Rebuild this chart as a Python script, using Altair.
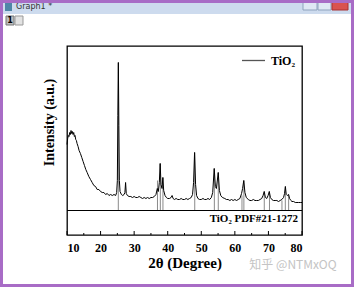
import altair as alt
import pandas as pd

# XRD pattern (2theta in degrees, intensity in arbitrary units)
two_theta = [
    10.0, 10.2, 10.4, 10.6, 10.8, 11.0, 11.2, 11.4, 11.6, 11.8,
    12.0, 12.2, 12.4, 12.6, 12.8, 13.0, 13.3, 13.6, 14.0, 14.4,
    14.8, 15.2, 15.6, 16.0, 16.5, 17.0, 17.5, 18.0, 18.5, 19.0,
    19.5, 20.0, 20.5, 21.0, 21.5, 22.0, 22.5, 23.0, 23.5, 24.0,
    24.5, 24.8, 25.0, 25.15, 25.3, 25.45, 25.6, 25.8, 26.2, 26.6,
    27.0, 27.25, 27.45, 27.65, 28.0, 28.5, 29.0, 29.5, 30.0, 30.5,
    31.0, 31.5, 32.0, 32.5, 33.0, 33.5, 34.0, 34.5, 35.0, 35.5,
    36.0, 36.5, 36.9, 37.2, 37.5, 37.75, 38.0, 38.3, 38.55, 38.8,
    39.2, 39.6, 40.0, 40.5, 41.0, 41.3, 41.6, 42.0, 42.5, 43.0,
    43.5, 44.0, 44.5, 45.0, 45.5, 46.0, 46.5, 47.0, 47.4, 47.7,
    48.0, 48.3, 48.6, 49.0, 49.5, 50.0, 50.5, 51.0, 51.5, 52.0,
    52.5, 53.0, 53.4, 53.85, 54.2, 54.5, 55.05, 55.4, 55.8, 56.3,
    57.0, 57.5, 58.0, 58.5, 59.0, 59.5, 60.0, 60.5, 61.0, 61.5,
    62.0, 62.3, 62.65, 63.0, 63.4, 64.0, 64.5, 65.0, 65.5, 66.0,
    66.5, 67.0, 67.5, 68.0, 68.4, 68.75, 69.1, 69.5, 69.9, 70.25,
    70.6, 71.0, 71.5, 72.0, 72.5, 73.0, 73.5, 74.0, 74.5, 74.8,
    75.05, 75.3, 75.6, 76.0, 76.3, 76.7, 77.0, 77.5, 78.0, 78.5,
    79.0, 79.5, 80.0,
]
counts = [
    66, 72, 75, 74, 78, 76, 80, 77, 79, 76,
    78, 74, 75, 71, 70, 67, 64, 60, 57, 53,
    49, 45, 41, 38, 34, 31, 28, 25, 24, 21,
    21, 19, 18, 18, 16, 17, 15, 16, 15, 16,
    15, 18, 30, 95, 148, 85, 30, 19, 16, 15,
    16, 18, 28, 17, 15, 14, 14, 13, 14, 13,
    13, 14, 13, 12, 13, 12, 13, 12, 13, 13,
    14, 16, 22, 19, 28, 47, 26, 22, 33, 20,
    15, 13, 12, 12, 13, 15, 12, 11, 12, 11,
    11, 12, 11, 11, 12, 11, 12, 13, 16, 28,
    58, 26, 15, 12, 11, 11, 12, 11, 11, 12,
    11, 13, 18, 42, 24, 22, 38, 20, 15, 13,
    12, 11, 11, 10, 11, 10, 11, 10, 11, 12,
    17, 22, 30, 18, 13, 11, 10, 10, 11, 10,
    10, 10, 11, 12, 15, 19, 13, 12, 15, 19,
    13, 11, 10, 10, 10, 9, 10, 11, 13, 17,
    24, 16, 15, 16, 12, 10, 9, 9, 8, 8,
    8, 8, 8,
]

# Reference pattern TiO2 PDF#21-1272 (stick positions and heights)
pdf_pos = [25.28, 36.95, 37.80, 38.58, 48.05, 53.89, 55.06, 62.12, 62.69,
           68.76, 70.31, 74.03, 75.03, 76.02]
pdf_h = [148, 30, 47, 33, 58, 42, 38, 15, 30, 19, 19, 10, 24, 16]

major_ticks = [10, 20, 30, 40, 50, 60, 70, 80]
minor_ticks = [15, 25, 35, 45, 55, 65, 75]

legend_label = ["TiO₂"]
panel_label = ["TiO₂ PDF#21-1272"]
x_title = "2θ (Degree)"
y_title = "Intensity (a.u.)"

SERIF = "Liberation Serif"
W, H = 235, 189

xs = alt.Scale(domain=[10, 80], nice=False, zero=False)
ys = alt.Scale(domain=[-24.5, 164.5], nice=False, zero=False)

curve_df = pd.DataFrame({"x": two_theta, "y": counts})
pdf_df = pd.DataFrame({"x": pdf_pos, "h": pdf_h})
major_df = pd.DataFrame({"x": major_ticks})
minor_df = pd.DataFrame({"x": minor_ticks})
one = pd.DataFrame({"a": [0]})

x_axis = alt.Axis(
    values=major_ticks, format="d", grid=False, ticks=False, domain=False,
    labelFont=SERIF, labelFontSize=12, labelFontWeight="bold", labelColor="black",
    labelPadding=7, title=x_title, titleFont=SERIF, titleFontSize=15,
    titleFontWeight="bold", titleColor="black", titlePadding=2,
)
y_axis = alt.Axis(
    labels=False, ticks=False, domain=False, grid=False, title=y_title,
    titleFont=SERIF, titleFontSize=14, titleFontWeight="bold", titleColor="black",
    titlePadding=11, titleY=76,
)

sticks = alt.Chart(pdf_df).mark_rule(color="#8a8a8a", strokeWidth=1).encode(
    x=alt.X("x:Q", scale=xs, axis=x_axis),
    y=alt.Y("h:Q", scale=ys, axis=y_axis),
    y2=alt.datum(0),
)

curve = alt.Chart(curve_df).mark_line(color="black", strokeWidth=1).encode(
    x=alt.X("x:Q", scale=xs, axis=x_axis),
    y=alt.Y("y:Q", scale=ys, axis=y_axis),
)

# separator between the pattern panel and the PDF-card panel
divider = alt.Chart(one).mark_rule(color="black", strokeWidth=1.2).encode(
    x=alt.value(0), x2=alt.value(W), y=alt.value(164.5)
)

major = alt.Chart(major_df).mark_rule(color="black", strokeWidth=1).encode(
    x=alt.X("x:Q", scale=xs, axis=x_axis),
    y=alt.value(H), y2=alt.value(H - 4),
)
minor = alt.Chart(minor_df).mark_rule(color="black", strokeWidth=1).encode(
    x=alt.X("x:Q", scale=xs, axis=x_axis),
    y=alt.value(H), y2=alt.value(H - 2),
)

legend_line = alt.Chart(one).mark_rule(color="#555555", strokeWidth=1.3).encode(
    x=alt.value(175), x2=alt.value(198), y=alt.value(14.5)
)
legend_text = alt.Chart(pd.DataFrame({"t": legend_label})).mark_text(
    align="left", baseline="middle", font=SERIF, fontSize=12, fontWeight="bold",
    color="black",
).encode(x=alt.value(204), y=alt.value(14.5), text="t:N")

panel_text = alt.Chart(pd.DataFrame({"t": panel_label})).mark_text(
    align="right", baseline="middle", font=SERIF, fontSize=11, fontWeight="bold",
    color="black",
).encode(x=alt.value(231), y=alt.value(173), text="t:N")

# window chrome around the graph
title_bar = alt.Chart(one).mark_rect(color="#cddbee").encode(
    x=alt.value(-67), x2=alt.value(287), y=alt.value(-46), y2=alt.value(-32)
)
win_icon = alt.Chart(one).mark_rect(color="#4f86a8").encode(
    x=alt.value(-62), x2=alt.value(-55), y=alt.value(-44), y2=alt.value(-35)
)
win_title = alt.Chart(pd.DataFrame({"t": ["Graph1 *"]})).mark_text(
    align="left", baseline="middle", font="DejaVu Sans", fontSize=8, color="#333333"
).encode(x=alt.value(-51), y=alt.value(-39), text="t:N")
btn_min = alt.Chart(one).mark_rect(color="#dfe8f4", stroke="#8fa3bd").encode(
    x=alt.value(236), x2=alt.value(250), y=alt.value(-44), y2=alt.value(-36)
)
btn_max = alt.Chart(one).mark_rect(color="#dfe8f4", stroke="#8fa3bd").encode(
    x=alt.value(251), x2=alt.value(264), y=alt.value(-44), y2=alt.value(-36)
)
btn_close = alt.Chart(one).mark_rect(color="#d9534f", stroke="#a33").encode(
    x=alt.value(265), x2=alt.value(281), y=alt.value(-44), y2=alt.value(-36)
)
tab1 = alt.Chart(one).mark_rect(color="#bdbdbd", stroke="#777777").encode(
    x=alt.value(-61), x2=alt.value(-53), y=alt.value(-30), y2=alt.value(-21)
)
tab1_text = alt.Chart(pd.DataFrame({"t": ["1"]})).mark_text(
    align="center", baseline="middle", font="DejaVu Sans", fontSize=8,
    fontWeight="bold", color="black",
).encode(x=alt.value(-57), y=alt.value(-25.5), text="t:N")
tab2 = alt.Chart(one).mark_rect(color="#e2e2e2", stroke="#999999").encode(
    x=alt.value(-52), x2=alt.value(-44), y=alt.value(-30), y2=alt.value(-21)
)
border = alt.Chart(one).mark_rect(fill=None, stroke="#a86cc6", strokeWidth=3).encode(
    x=alt.value(-65.5), x2=alt.value(285.5), y=alt.value(-44.5), y2=alt.value(239.5)
)
watermark = alt.Chart(pd.DataFrame({"t": ["知乎 @NTMxOQ"]})).mark_text(
    align="center", baseline="middle", font="Noto Sans CJK SC", fontSize=12,
    color="#c4c4c4",
).encode(x=alt.value(226), y=alt.value(219), text="t:N")

chart = alt.layer(
    title_bar, win_icon, win_title, btn_min, btn_max, btn_close, tab1, tab1_text, tab2,
    sticks, curve, divider, major, minor, legend_line, legend_text, panel_text,
    watermark, border,
).properties(
    width=W, height=H,
    autosize=alt.AutoSizeParams(type="none"),
    padding={"left": 67, "top": 46, "right": 52, "bottom": 52},
    background="white",
).configure_view(stroke="black", strokeWidth=1.3)

chart.save("out.html", embed_options={"renderer": "svg", "actions": False})
